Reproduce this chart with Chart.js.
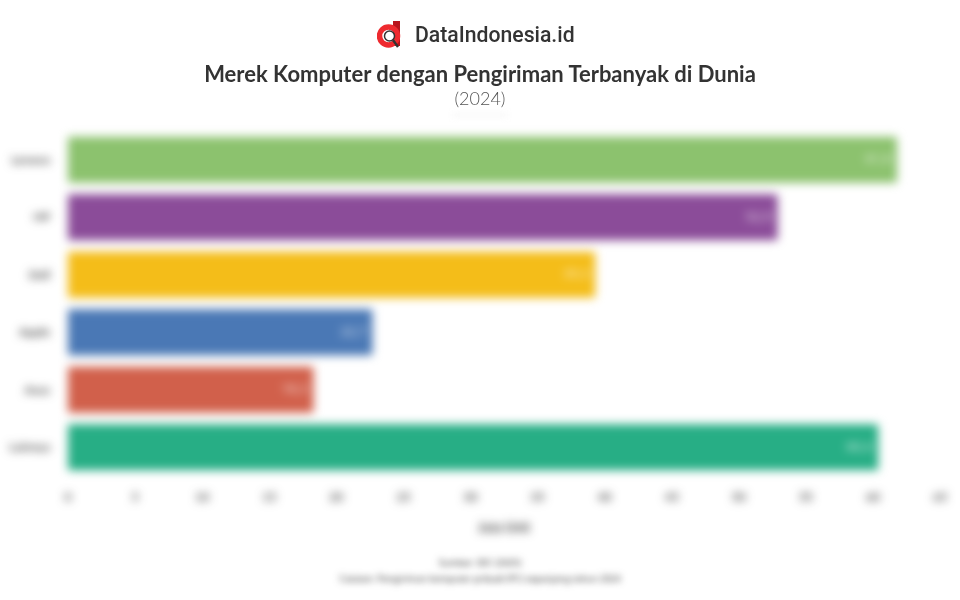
<!DOCTYPE html>
<html lang="id">
<head>
<meta charset="utf-8">
<title>Merek Komputer dengan Pengiriman Terbanyak di Dunia</title>
<script src="https://cdn.jsdelivr.net/npm/chart.js@4"></script>
<style>
  html, body { margin: 0; padding: 0; background: #fff; }
  #wrap { position: relative; width: 960px; height: 600px; overflow: hidden; }
  #chart { position: absolute; left: 0; top: 0; filter: blur(4.6px); }
  .txt { position: absolute; left: 0; width: 960px; text-align: center; white-space: nowrap; }
  #brand { top: 22px; left: 415px; width: auto; font: 500 21.2px Roboto, sans-serif; color: #333; }
  #logo { position: absolute; left: 377px; top: 21px; }
  #title { top: 60px; font: 700 22px Lato, sans-serif; color: #333; }
  #year { top: 87px; font: 300 18px Lato, sans-serif; color: #555; }
  #foot { top: 555px; font: 400 9.1px/16px "Noto Sans", sans-serif; color: #333; filter: blur(3.6px); }
  #smudge { position: absolute; left: 452px; top: 113px; width: 56px; height: 4px; background: #f7f7f7; filter: blur(3px); }
</style>
</head>
<body>
<div id="wrap">
  <canvas id="chart" width="960" height="600"></canvas>
  <svg id="logo" width="24" height="28" viewBox="0 0 24 28">
    <rect x="16" y="0" width="7" height="25" fill="#b8141c"></rect>
    <circle cx="11.5" cy="15" r="9" fill="none" stroke="#ee2a2f" stroke-width="5.5"></circle>
    <circle cx="12.5" cy="15" r="5" fill="#fff" stroke="#333" stroke-width="1.5"></circle>
    <line x1="16" y1="19" x2="21" y2="26" stroke="#333" stroke-width="2.4"></line>
  </svg>
  <div class="txt" id="brand">DataIndonesia.id</div>
  <div class="txt" id="title">Merek Komputer dengan Pengiriman Terbanyak di Dunia</div>
  <div class="txt" id="year">(2024)</div>
  <div id="smudge"></div>
  <div class="txt" id="foot">Sumber: IDC (2025)<br>Catatan: Pengiriman komputer pribadi (PC) sepanjang tahun 2024</div>
</div>
<script>
const categories = ["Lenovo", "HP", "Dell", "Apple", "Asus", "Lainnya"];
const shipments = [61.8, 52.9, 39.3, 22.7, 18.3, 60.4];
const barColors = ["#8CC26E", "#8B4C99", "#F4BD19", "#4A78B5", "#D1604B", "#27AE85"];
const axisTitle = "Juta Unit";

// angka di ujung dalam batang
const valueLabels = {
  id: "valueLabels",
  afterDatasetsDraw(chart) {
    const ctx = chart.ctx;
    const bars = chart.getDatasetMeta(0).data;
    ctx.save();
    ctx.font = "600 13px 'Noto Sans', sans-serif";
    ctx.fillStyle = "rgba(255,255,255,0.6)";
    ctx.textAlign = "right";
    ctx.textBaseline = "middle";
    bars.forEach(function (bar, i) {
      ctx.fillText(shipments[i].toFixed(1).replace(".", ","), bar.x - 6, bar.y);
    });
    ctx.restore();
  }
};

new Chart(document.getElementById("chart"), {
  type: "bar",
  data: {
    labels: categories,
    datasets: [{
      data: shipments,
      backgroundColor: barColors,
      borderRadius: 2,
      barPercentage: 0.8,
      categoryPercentage: 1
    }]
  },
  options: {
    indexAxis: "y",
    responsive: false,
    devicePixelRatio: 1,
    animation: false,
    layout: { padding: { top: 131, right: 20, bottom: 64, left: 0 } },
    plugins: { legend: { display: false }, tooltip: { enabled: false } },
    scales: {
      x: {
        min: 0,
        max: 65,
        ticks: { stepSize: 5, color: "#333", font: { family: "Lato", size: 12, weight: "600" }, padding: 6 },
        grid: { display: false },
        border: { display: false },
        title: { display: true, text: axisTitle, color: "#222", font: { family: "Lato", size: 13, weight: "600" }, padding: { top: 14, bottom: 0 } },
        afterFit(scale) { scale.height = 60; }
      },
      y: {
        ticks: { color: "#333", font: { family: "Lato", size: 12, weight: "600" }, padding: 10 },
        grid: { display: false },
        border: { display: false },
        afterFit(scale) { scale.width = 68; }
      }
    }
  },
  plugins: [valueLabels]
});
</script>
</body>
</html>
